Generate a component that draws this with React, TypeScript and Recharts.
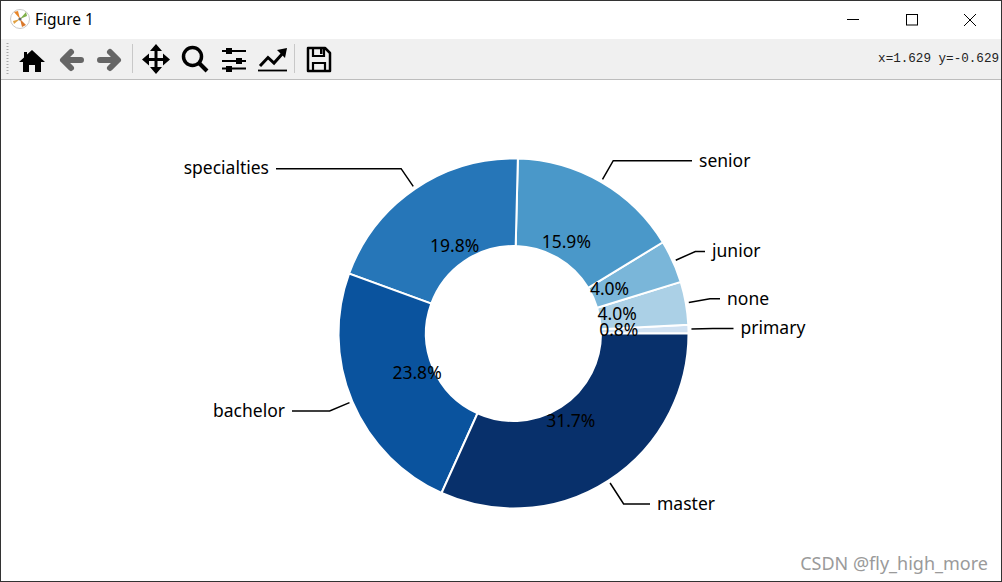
import { Cell, Pie, PieChart } from "recharts";

const categories = ["primary", "none", "junior", "senior", "specialties", "bachelor", "master"];
const counts = [1, 5, 5, 20, 25, 30, 40];
const colors = ["#d0e1f2", "#abd0e6", "#7ab6d9", "#4a98c9", "#2676b8", "#0a539e", "#08306b"];

// matplotlib put each annotation text by hand, so read the offsets per slice
const textOffsets = [227, 213.5, 198.5, 185.5, 244.5, 228.5, 143.5];
const elbowFactors = [1.14, 1.14, 1.14, 1.14, 1.14, 1.14, 1.16];

const pieData = categories.map((name, i) => ({ name, value: counts[i] }));

const FONT = "'Noto Sans', sans-serif";
const RAD = Math.PI / 180;

function SliceLabel(props: any) {
  const { cx, cy, midAngle, outerRadius, percent, index, name } = props;
  const cos = Math.cos(midAngle * RAD);
  const sin = Math.sin(midAngle * RAD);
  const side = cos >= 0 ? 1 : -1;

  const tipX = cx + (outerRadius + 3) * cos;
  const tipY = cy - (outerRadius + 3) * sin;
  const elbowX = cx + outerRadius * elbowFactors[index] * cos;
  const elbowY = cy - outerRadius * elbowFactors[index] * sin;
  const textX = cx + side * textOffsets[index];

  return (
    <g>
      <polyline
        points={`${tipX},${tipY} ${elbowX},${elbowY} ${textX - side * 7},${elbowY}`}
        fill="none"
        stroke="#000"
        strokeWidth={1.5}
      />
      <text x={textX} y={elbowY - 1.2} textAnchor={side > 0 ? "start" : "end"} dominantBaseline="central" fontSize={17.5} fontFamily={FONT} fill="#000">
        {name}
      </text>
      <text
        x={cx + outerRadius * 0.6 * cos + 0.3}
        y={cy - outerRadius * 0.6 * sin - 2}
        textAnchor="middle"
        dominantBaseline="central"
        fontSize={17.5}
        fontFamily={FONT}
        fill="#000"
      >
        {(percent * 100).toFixed(1)}%
      </text>
    </g>
  );
}

function ToolIcons() {
  return (
    <svg width={340} height={40} style={{ position: "absolute", left: -1, top: 0 }}>
      {/* grip */}
      <line x1={7.5} y1={4} x2={7.5} y2={37} stroke="#a8a8a8" strokeWidth={2} strokeDasharray="1 2" />
      {/* home */}
      <path d="M32 11 L45 23 L41 23 L41 33 L35 33 L35 26 L29 26 L29 33 L23 33 L23 23 L19 23 L24 18.5 L24 13 L27 13 L27 15.5 Z" fill="#000" />
      {/* back */}
      <path d="M71 13 L63 21 L71 29 M64 21 L81 21" fill="none" stroke="#666" strokeWidth={6} strokeLinejoin="round" strokeLinecap="round" />
      {/* forward */}
      <path d="M110 13 L118 21 L110 29 M117 21 L100 21" fill="none" stroke="#666" strokeWidth={6} strokeLinejoin="round" strokeLinecap="round" />
      <line x1={132.5} y1={5} x2={132.5} y2={34} stroke="#c8c8c8" />
      {/* move */}
      <path d="M156 8 L156 33 M144 20.5 L168 20.5" stroke="#000" strokeWidth={3} />
      <path d="M156 5 L162 12 L150 12 Z M156 35 L162 28 L150 28 Z M142 20.5 L149 14.5 L149 26.5 Z M170 20.5 L163 14.5 L163 26.5 Z" fill="#000" />
      {/* zoom */}
      <circle cx={192.5} cy={17.5} r={9} fill="none" stroke="#000" strokeWidth={3.5} />
      <line x1={199} y1={24} x2={207} y2={32} stroke="#000" strokeWidth={4} />
      {/* sliders */}
      <path d="M222 12 L246 12 M222 22 L246 22 M222 29.5 L246 29.5" stroke="#000" strokeWidth={1.8} />
      <rect x={226} y={9} width={6} height={6} fill="#000" />
      <rect x={236} y={19} width={6} height={6} fill="#000" />
      <rect x={226} y={27} width={6} height={6} fill="#000" />
      {/* chart */}
      <path d="M258 31.5 L287 31.5" stroke="#000" strokeWidth={1.8} />
      <path d="M260 27 L268 18.5 L274 24 L283 14" fill="none" stroke="#000" strokeWidth={3} />
      <path d="M277 11 L287 9 L285 19 Z" fill="#000" />
      <line x1={294.5} y1={5} x2={294.5} y2={34} stroke="#c8c8c8" />
      {/* save */}
      <path d="M308 9 L325 9 L330 14 L330 32 L308 32 Z" fill="none" stroke="#000" strokeWidth={2.5} strokeLinejoin="round" />
      <path d="M313 9 L313 17 L324 17 L324 9 M313 32 L313 24 L325 24 L325 32" fill="none" stroke="#000" strokeWidth={2.2} />
      <rect x={320} y={10} width={2.5} height={5} fill="#000" />
    </svg>
  );
}

export default function App() {
  return (
    <div style={{ position: "absolute", left: 0, top: 0, width: 1002, height: 582, boxSizing: "border-box", border: "1px solid #333", background: "#fff", overflow: "hidden" }}>
      {/* title bar */}
      <svg width={24} height={24} style={{ position: "absolute", left: 8, top: 6 }}>
        <circle cx={11} cy={12} r={9.5} fill="#fff" stroke="#c8c8c8" />
        <path d="M11 12 L5 5 L9 4 Z" fill="#e8862a" />
        <path d="M11 12 L17 5 L18 9 Z" fill="#7fb04a" />
        <path d="M11 12 L4 14 L5 17 Z" fill="#e0a040" />
        <path d="M11 12 L17 18 L13 20 Z" fill="#d9782c" />
        <circle cx={11} cy={12} r={1.6} fill="#666" />
      </svg>
      <div style={{ position: "absolute", left: 34, top: 7, fontFamily: FONT, fontSize: 15.5, lineHeight: "22px", color: "#000" }}>Figure 1</div>
      <svg width={150} height={38} style={{ position: "absolute", left: 839, top: 0 }}>
        <line x1={7} y1={18.5} x2={19} y2={18.5} stroke="#000" />
        <rect x={66.5} y={13.5} width={11} height={10.5} fill="none" stroke="#000" />
        <path d="M124 13 L136 25 M136 13 L124 25" stroke="#000" />
      </svg>

      {/* toolbar */}
      <div style={{ position: "absolute", left: 0, top: 38, width: 1000, height: 40, background: "#f0f0f0", borderBottom: "1px solid #bdbdbd" }}>
        <ToolIcons />
        <div style={{ position: "absolute", right: 2, top: 10, fontFamily: "'Liberation Mono', monospace", fontSize: 12.6, lineHeight: "20px", whiteSpace: "pre", color: "#222" }}>x=1.629 y=-0.629</div>
      </div>

      {/* figure */}
      <div style={{ position: "absolute", left: -1, top: -1 }}>
        <PieChart width={1002} height={582} margin={{ top: 0, right: 0, bottom: 0, left: 0 }}>
          <Pie
            data={pieData}
            dataKey="value"
            nameKey="name"
            cx={513.5}
            cy={333.5}
            innerRadius={87.5}
            outerRadius={175}
            startAngle={0}
            endAngle={360}
            paddingAngle={0}
            stroke="#fff"
            strokeWidth={2}
            labelLine={false}
            label={SliceLabel}
            isAnimationActive={false}
          >
            {categories.map((name, i) => (
              <Cell key={name} fill={colors[i]} />
            ))}
          </Pie>
        </PieChart>
      </div>

      <div style={{ position: "absolute", right: 13, top: 551, fontFamily: FONT, fontSize: 18, lineHeight: "22px", color: "#9a9a9a" }}>CSDN @fly_high_more</div>
    </div>
  );
}
